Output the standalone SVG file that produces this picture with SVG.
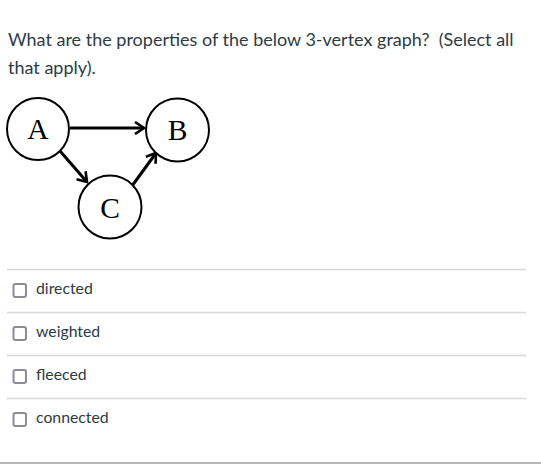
<svg xmlns="http://www.w3.org/2000/svg" width="541" height="465" viewBox="0 0 541 465">
<style>
.q{font-family:Lato,"Open Sans","Liberation Sans",sans-serif;font-size:18px;fill:#2d3b45;white-space:pre}
.opt{font-family:Lato,"Open Sans","Liberation Sans",sans-serif;font-size:15.8px;fill:#2d3b45}
.node circle{fill:#fff;stroke:#000;stroke-width:2}
.node text{font-family:"Liberation Serif","Times New Roman",serif;font-size:29.5px;fill:#000;text-anchor:middle}
.edge{stroke:#000;stroke-width:3;fill:none;marker-end:url(#arr)}
.sep{stroke:#d7d7d7;stroke-width:1.3}
.cb{fill:#fff;stroke:#8b8b99;stroke-width:2}
</style>
<defs>
<marker id="arr" markerUnits="userSpaceOnUse" markerWidth="14" markerHeight="14" viewBox="-1 -1 12 14" refX="9" refY="6" orient="auto">
<path d="M0,0 L9,6 L0,12" fill="none" stroke="#000" stroke-width="2.6"/>
</marker>
</defs>
<rect width="541" height="465" fill="#fff"/>
<text class="q" x="8" y="46" xml:space="preserve">What are the properties of the below 3-vertex graph?  (Select all</text>
<text class="q" x="8" y="74">that apply).</text>
<g id="connectors">
<line class="edge" x1="70" y1="128" x2="144" y2="128"/>
<line class="edge" x1="60" y1="151" x2="87" y2="182"/>
<line class="edge" x1="132" y1="186" x2="156" y2="153"/>
</g>
<g id="node-A" class="node"><circle cx="38" cy="129" r="31"/><text x="38" y="138.5">A</text></g>
<g id="node-B" class="node"><circle cx="177.5" cy="130" r="31.5"/><text x="177.5" y="139.5">B</text></g>
<g id="node-C" class="node"><circle cx="110" cy="207" r="31.5"/><text x="110" y="217.5">C</text></g>
<line class="sep" x1="7" y1="269.5" x2="526" y2="269.5"/>
<line class="sep" x1="7" y1="312.5" x2="526" y2="312.5"/>
<line class="sep" x1="7" y1="355.5" x2="526" y2="355.5"/>
<line class="sep" x1="7" y1="398.5" x2="526" y2="398.5"/>
<line x1="0" y1="463" x2="541" y2="463" stroke="#a0a0a0" stroke-width="1.5"/>
<rect class="cb" x="13.5" y="284" width="12.5" height="13" rx="2"/>
<text class="opt" x="36" y="294">directed</text>
<rect class="cb" x="13.5" y="327" width="12.5" height="13" rx="2"/>
<text class="opt" x="36" y="337">weighted</text>
<rect class="cb" x="13.5" y="370" width="12.5" height="13" rx="2"/>
<text class="opt" x="36" y="380">fleeced</text>
<rect class="cb" x="13.5" y="413" width="12.5" height="13" rx="2"/>
<text class="opt" x="36" y="423">connected</text>
</svg>
